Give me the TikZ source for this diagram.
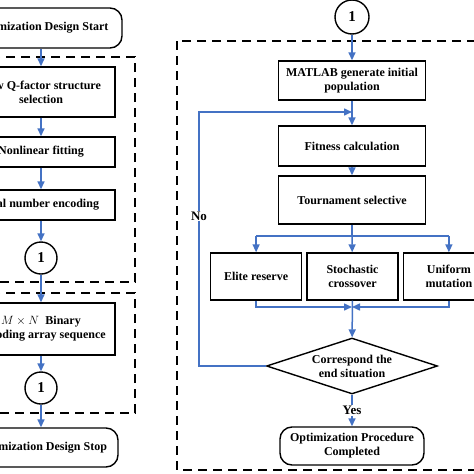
\documentclass[tikz,border=0pt]{standalone}
\usepackage{fontspec}
\setmainfont{Liberation Serif}
\usepackage{tikz}
\usetikzlibrary{arrows.meta,positioning,shapes.geometric,calc}
\definecolor{flowblue}{HTML}{4472C4}
\tikzset{
  box/.style   ={draw=black,line width=1.4pt,fill=white,inner sep=2pt,align=center,
                 font=\bfseries\fontsize{12}{14}\selectfont},
  term/.style  ={box,rounded corners=12pt},
  conn/.style  ={circle,draw=black,line width=1.4pt,fill=white,inner sep=0pt,
                 minimum size=32pt,font=\bfseries\fontsize{15}{15}\selectfont},
  dec/.style   ={diamond,draw=black,line width=1.4pt,fill=white,inner sep=0pt,aspect=3,
                 align=center,font=\bfseries\fontsize{12}{14}\selectfont},
  zone/.style  ={draw=black,line width=1.8pt,dash pattern=on 9pt off 6pt},
  flow/.style  ={-{Triangle[length=8pt,width=7pt]},line width=1.5pt,draw=flowblue},
  line/.style  ={line width=1.5pt,draw=flowblue},
  tag/.style   ={fill=white,inner sep=1pt,font=\bfseries\fontsize{13}{13}\selectfont}
}
\begin{document}
\begin{tikzpicture}[x=1pt,y=-1pt]
  \useasboundingbox (0,0) rectangle (474,474);
  \clip (0,0) rectangle (474,474);
  \fill[white] (0,0) rectangle (474,474);

  % dashed zones
  \draw[zone] (-60,57) rectangle (135,282);
  \draw[zone] (-60,293) rectangle (135,413);
  \draw[zone] (177,41) rectangle (520,470);

  % left column
  \node[term,minimum width=162pt,minimum height=40pt] (start) at (41,28) {Optimization Design Start};
  \node[box,minimum width=148pt,minimum height=50pt] (qsel) at (41,92)
    {Low Q-factor structure\\selection};
  \node[box,minimum width=148pt,minimum height=30pt] (nfit) at (41,152) {Nonlinear fitting};
  \node[box,minimum width=148pt,minimum height=30pt] (renc) at (41,205) {Real number encoding};
  \node[conn] (ca) at (41,258) {1};
  \node[box,minimum width=148pt,minimum height=52pt] (mnseq) at (41,329)
    {$M\times N$\; Binary\\Encoding array sequence};
  \node[conn] (cb) at (41,388) {1};
  \node[term,minimum width=154pt,minimum height=39pt] (stop) at (41,447.5) {Optimization Design Stop};

  \draw[flow] (start) -- (qsel);
  \draw[flow] (qsel) -- (nfit);
  \draw[flow] (nfit) -- (renc);
  \draw[flow] (renc) -- (ca);
  \draw[flow] (ca) -- (mnseq);
  \draw[flow] (mnseq) -- (cb);
  \draw[flow] (cb) -- (stop);

  % right column
  \node[conn,minimum size=34pt] (cc) at (352,17) {1};
  \node[box,minimum width=147pt,minimum height=39pt] (init) at (352,80.5)
    {MATLAB generate initial\\population};
  \node[box,minimum width=147pt,minimum height=40pt] (fitc) at (352,146) {Fitness calculation};
  \node[box,minimum width=147pt,minimum height=48pt] (tour) at (352,200) {Tournament selective};
  \node[box,minimum width=91pt,minimum height=47pt] (cross) at (352.5,276.5)
    {Stochastic\\crossover};
  \node[box,minimum width=91pt,minimum height=47pt,left=4pt of cross] (elite) {Elite reserve};
  \node[box,minimum width=91pt,minimum height=47pt,right=4pt of cross] (unif) {Uniform\\mutation};
  \node[dec,minimum width=171pt,minimum height=56pt] (endc) at (352,366)
    {Correspond the\\end situation};
  \node[term,minimum width=144pt,minimum height=38pt] (done) at (352,446)
    {Optimization Procedure\\Completed};

  \coordinate (split) at (352,236);
  \coordinate (merge) at (352,307);
  \coordinate (back) at (199,112);

  \draw[flow] (cc) -- (init);
  \draw[flow] (init) -- (fitc);
  \draw[flow] (fitc) -- (tour);
  \draw[line] (tour.south) -- (split);
  \draw[line] (split -| elite) -- (split -| unif);
  \draw[flow] (split -| elite) -- (elite);
  \draw[flow] (split) -- (cross);
  \draw[flow] (split -| unif) -- (unif);
  \draw[flow] (elite) |- (merge);
  \draw[flow] (unif) |- (merge);
  \draw[flow] (cross) -- (endc);
  \draw[flow] (endc.west) -| (back) -- (back -| init.south)
    node[pos=0,tag,below=98pt] {No};
  \draw[flow] (endc) -- (done) node[tag,midway] {Yes};
\end{tikzpicture}
\end{document}
